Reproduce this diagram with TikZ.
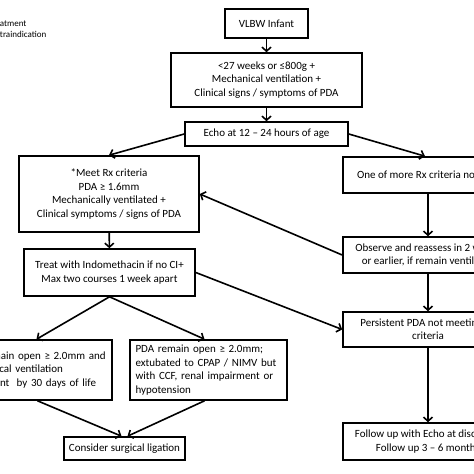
\documentclass[tikz,border=0pt]{standalone}
\usepackage{fontspec}
\setmainfont{Carlito}
\usetikzlibrary{arrows.meta}
\begin{document}
\begin{tikzpicture}[x=1pt,y=-1pt,
  box/.style={draw,line width=1.6pt,inner sep=2pt,align=center,font=\fontsize{11}{13.4}\selectfont},
  lbox/.style={draw,line width=1.6pt,inner xsep=5pt,inner ysep=2pt,align=left,text width=146pt,minimum width=157pt,minimum height=60pt,font=\fontsize{11}{13.4}\selectfont},
  arr/.style={line width=1.6pt,-{Straight Barb[length=4pt,width=9pt,line width=1.6pt]}},
  legend/.style={font=\fontsize{9}{11}\selectfont,anchor=base west,inner sep=0pt}]
\useasboundingbox (0,0) rectangle (474,474);
\clip (0,0) rectangle (474,474);
\node[legend] (lg1) at (-29,26) {Rx -- Treatment};
\node[legend] (lg2) at (-30,37) {CI -- Contraindication};
\node[box,minimum width=83pt,minimum height=29pt] (vlbw) at (266.5,23.5) {VLBW Infant};
\node[box,minimum width=191pt,minimum height=54pt] (crit) at (266.5,80) {<27 weeks or ≤800g +\\Mechanical ventilation +\\Clinical signs / symptoms of PDA};
\node[box,minimum width=163pt,minimum height=24pt] (echo) at (266.5,134) {Echo at 12 -- 24 hours of age};
\node[box,minimum width=180pt,minimum height=76pt] (meet) at (109,194) {*Meet Rx criteria\\PDA ≥ 1.6mm\\Mechanically ventilated +\\Clinical symptoms / signs of PDA};
\node[box,minimum width=170pt,minimum height=36pt] (notmet) at (428,175) {One of more Rx criteria not met};
\node[box,minimum width=170pt,minimum height=36pt] (observe) at (428,255) {Observe and reassess in 2 weeks\\or earlier, if remain ventilated};
\node[box,minimum width=171pt,minimum height=47pt] (treat) at (109.5,272.5) {Treat with Indomethacin if no CI+\\Max two courses 1 week apart};
\node[box,minimum width=170pt,minimum height=35pt] (persist) at (428,329.5) {Persistent PDA not meeting Rx\\criteria};
\node[lbox] (bl) at (33.5,370) {PDA remain open ≥ 2.0mm and\\Mechanical ventilation\\dependent\ \ by 30 days of life};
\node[lbox] (pda) at (208.5,370) {PDA remain open ≥ 2.0mm;\\extubated to CPAP / NIMV but\\with CCF, renal impairment or\\hypotension};
\node[box,minimum width=121pt,minimum height=23pt] (lig) at (124.5,448.5) {Consider surgical ligation};
\node[box,minimum width=170pt,minimum height=37pt] (follow) at (428,441.5) {Follow up with Echo at discharge\\Follow up 3 -- 6 months};
\draw[arr] (vlbw) -- (crit);
\draw[arr] (crit) -- (echo);
\draw[arr] (echo.west) -- (meet.north);
\draw[arr] (echo.east) -- ([xshift=-3pt]notmet.north);
\draw[arr] (notmet) -- (observe);
\draw[arr] (observe.west) -- (meet.east);
\draw[arr] (meet) -- (treat);
\draw[arr] (treat.east) -- (persist.west);
\draw[arr] (observe) -- (persist);
\draw[arr] (treat.south) -- ([xshift=3pt]bl.north);
\draw[arr] (treat.south) -- ([xshift=-4pt]pda.north);
\draw[arr] ([xshift=4pt]bl.south) -- ([xshift=-3pt]lig.north);
\draw[arr] ([xshift=-4pt]pda.south) -- ([xshift=3pt]lig.north);
\draw[arr] (persist) -- (follow);
\end{tikzpicture}
\end{document}
